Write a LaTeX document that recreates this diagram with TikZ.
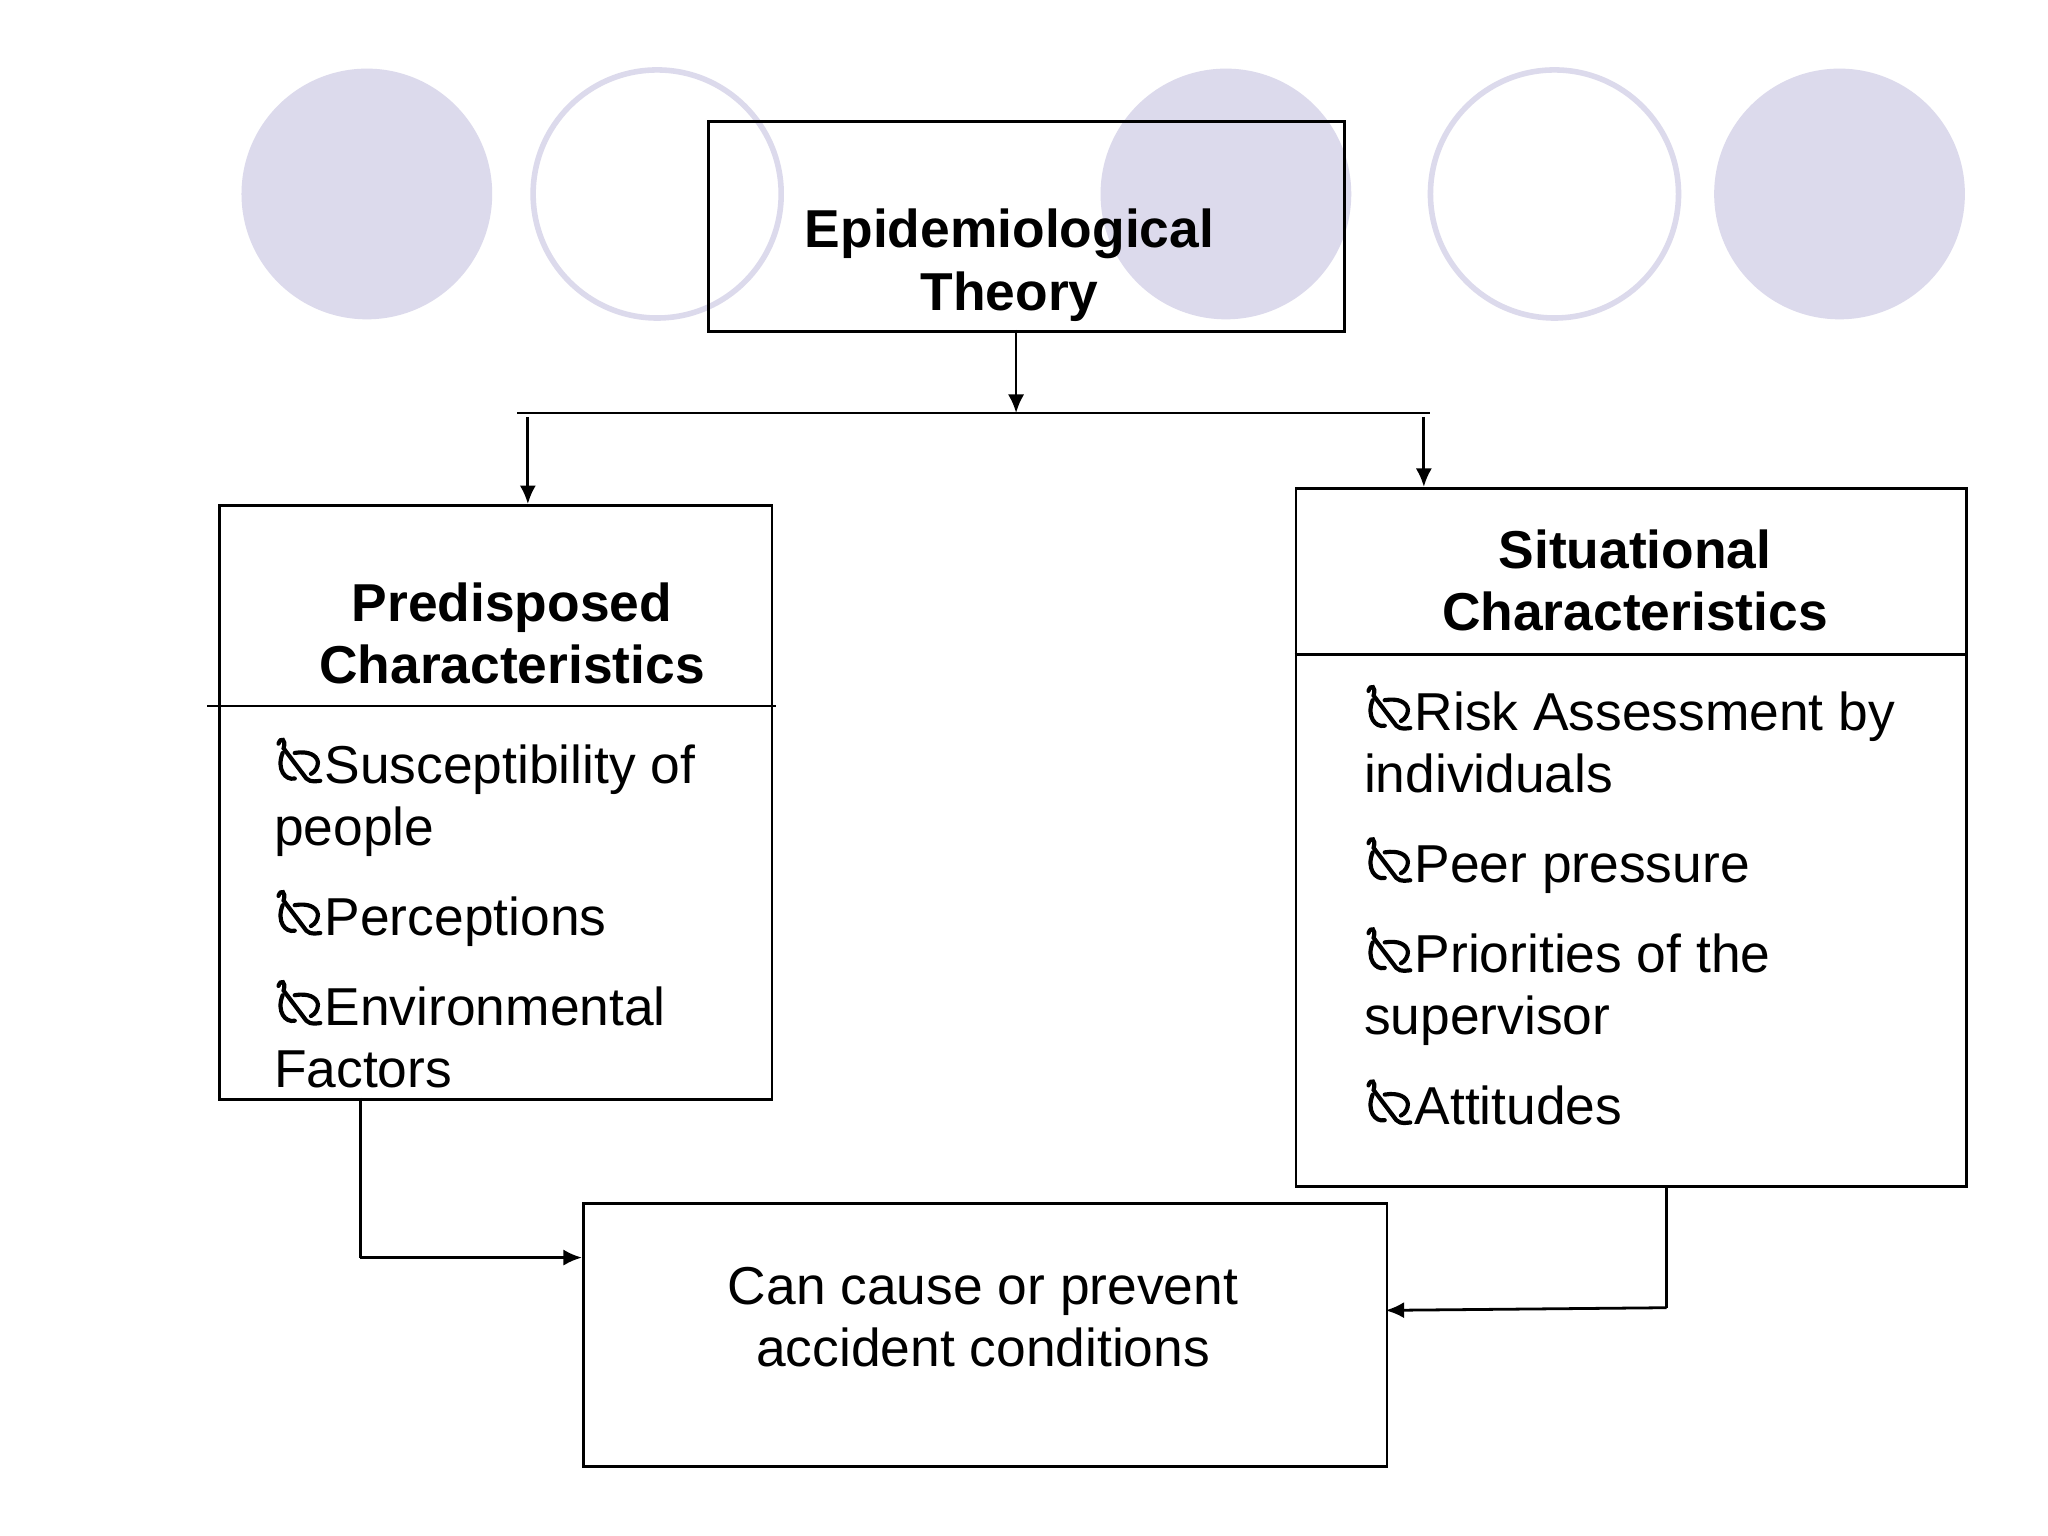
\documentclass[tikz,border=0pt]{standalone}
\usepackage{fontspec}
\setmainfont{Liberation Sans}
\usetikzlibrary{arrows.meta}
\definecolor{lav}{HTML}{DCDAEC}
\newcommand\bul{\tikz[baseline=0pt,x=1pt,y=1pt,line width=0.9pt,line cap=round]{\draw (0.5,8.5) .. controls (1,10) and (2.2,9.5) .. (1.6,7.5) -- (6.5,1) .. controls (7.5,0) and (9,0.5) .. (9.5,0.5); \draw (1.4,6.5) .. controls (0,3) and (2,0.5) .. (4,1) ; \draw (4,6.5) .. controls (7,7) and (8.8,6) .. (9,4.5) .. controls (9,3.5) and (8.5,2.5) .. (7.5,2);}\hspace{0.5pt}}
\begin{document}
\begin{tikzpicture}[x=0.01cm,y=-0.01cm,
  box/.style={draw,line width=0.6pt},
  ln/.style={line width=0.6pt},
  arr/.style={ln,-{Latex[length=4pt,width=3.5pt]}},
  txt/.style={font=\fontsize{11.5}{13.4}\selectfont,inner sep=0pt},
  tb/.style={txt,font=\fontsize{11.5}{13.4}\selectfont\bfseries},
  cf/.style={fill=lav,draw=none},
  co/.style={draw=lav,line width=1.2pt}]
\useasboundingbox (0,0) rectangle (1552,1164);
\fill[white] (0,0) rectangle (1552,1164);
\fill[lav] (278,147) circle (95);
\draw[co] (498,147) circle (94);
\fill[lav] (929,147) circle (95);
\draw[co] (1178,147) circle (94);
\fill[lav] (1394,147) circle (95);
\node[box,minimum width=482*0.01cm,minimum height=159*0.01cm,anchor=north west] (top) at (536,91) {};
\node[tb,align=center] (toptxt) at (765,201) {Epidemiological\\Theory};
\coordinate (j) at (770,313);
\coordinate (hl) at (392,313);
\coordinate (hr) at (1084,313);
\draw[arr] (770,250) -- (j);
\draw[ln] (hl) -- (hr);
\node[box,minimum width=419*0.01cm,minimum height=450*0.01cm,anchor=north west] (left) at (165,382) {};
\node[box,minimum width=508*0.01cm,minimum height=529*0.01cm,anchor=north west] (right) at (981,369) {};
\node[box,minimum width=609*0.01cm,minimum height=199*0.01cm,anchor=north west] (bot) at (441,911) {};
\draw[arr] (400,316) -- (left.north west -| 400,0);
\draw[arr] (1079,316) -- (right.north west -| 1079,0);
\draw[ln] (157,535) -- (588,535);
\draw[ln] (981,496) -- (1489,496);
\node[tb,align=center] (lt) at (388,480) {Predisposed\\Characteristics};
\node[tb,align=center] (rt) at (1239,440) {Situational\\Characteristics};
\node[txt,align=left,anchor=north west] (lb) at (207,556) {\bul Susceptibility of\\people\\[6pt]\bul Perceptions\\[6pt]\bul Environmental\\Factors};
\node[txt,align=left,anchor=north west] (rb) at (1033,516) {\bul Risk Assessment by\\individuals\\[6pt]\bul Peer pressure\\[6pt]\bul Priorities of the\\supervisor\\[6pt]\bul Attitudes};
\node[txt,align=center] (bt) at (745,998) {Can cause or prevent\\accident conditions};
\coordinate (c1) at (273,953);
\coordinate (c2) at (1263,991);
\draw[ln] (273,832) -- (c1);
\draw[arr] (c1) -- (bot.west |- c1);
\draw[ln] (1263,898) -- (c2);
\draw[arr] (c2) -- (1050,993);
\end{tikzpicture}
\end{document}
